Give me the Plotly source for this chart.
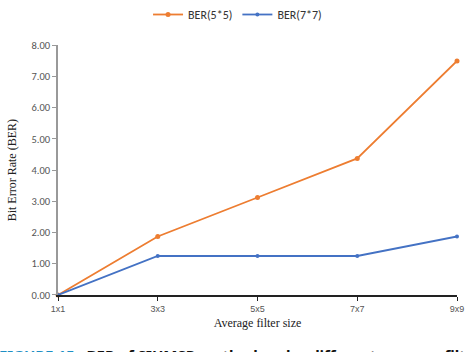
import plotly.graph_objects as go

categories = ["1x1", "3x3", "5x5", "7x7", "9x9"]
ber_5x5 = [0.0, 1.875, 3.125, 4.375, 7.5]
ber_7x7 = [0.0, 1.25, 1.25, 1.25, 1.875]
y_ticks = [0, 1, 2, 3, 4, 5, 6, 7, 8]

fig = go.Figure()
fig.add_trace(go.Scatter(x=categories, y=ber_5x5, name="BER(5*5)", mode="lines+markers",
                         line=dict(color="#ED7D31", width=1.8), marker=dict(size=5, color="#ED7D31"),
                         cliponaxis=False))
fig.add_trace(go.Scatter(x=categories, y=ber_7x7, name="BER(7*7)", mode="lines+markers",
                         line=dict(color="#4472C4", width=1.8), marker=dict(size=4, color="#4472C4"),
                         cliponaxis=False))

fig.update_layout(
    width=474, height=352,
    margin=dict(l=58, r=10, t=26, b=57),
    paper_bgcolor="white", plot_bgcolor="white",
    showlegend=True,
    legend=dict(orientation="h", x=0.45, xref="paper", xanchor="center", y=1.0, yref="container",
                yanchor="top", font=dict(family="Carlito, Noto Sans, sans-serif", size=12, color="#333333"),
                tracegroupgap=0, traceorder="normal"),
    xaxis=dict(type="category", range=[0, 4], showline=True, linecolor="#222222", linewidth=1.5,
               ticks="outside", ticklen=4, tickcolor="#222222", showgrid=False, zeroline=False,
               tickfont=dict(family="Liberation Sans, sans-serif", size=9, color="#555555"),
               title=dict(text="Average filter size", font=dict(family="Liberation Serif, serif", size=12, color="#222222"),
                          standoff=6)),
    yaxis=dict(range=[0, 8], tickvals=y_ticks, tickformat=".2f", ticksuffix="%", showline=True,
               linecolor="#999999", linewidth=1.5, ticks="outside", ticklen=4, tickcolor="#999999",
               showgrid=False, zeroline=False,
               tickfont=dict(family="Carlito, Liberation Sans, sans-serif", size=10.5, color="#555555"),
               title=dict(text="Bit Error Rate (BER)", font=dict(family="Liberation Serif, serif", size=12, color="#222222"),
                          standoff=12)),
)

fig.add_annotation(xref="paper", yref="paper", x=-62/406, y=-52/269, xanchor="left", yanchor="top",
                   showarrow=False, align="left",
                   text="<b><span style='color:#1d8fc4'>FIGURE 15.</span>  BER of SIHMSP method under different average filtering sizes.</b>",
                   font=dict(family="Noto Sans, sans-serif", size=15, color="#111111"))

fig.write_html("out.html")
